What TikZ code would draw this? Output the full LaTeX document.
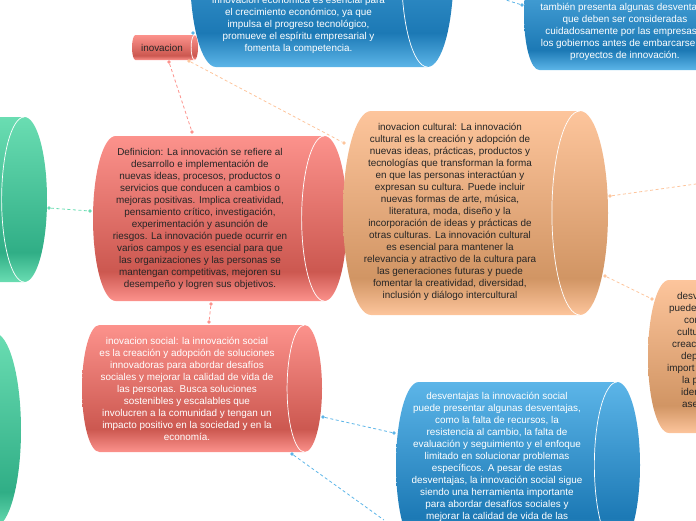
\documentclass[tikz,border=0pt]{standalone}
\usepackage{fontspec}
\setmainfont{Liberation Sans}
\definecolor{cylredlo}{HTML}{FC928C}
\definecolor{cylreddk}{HTML}{CC5850}
\definecolor{cylbluelo}{HTML}{5CB5E8}
\definecolor{cylbluedk}{HTML}{1C79B5}
\definecolor{cylorangelo}{HTML}{FDC59C}
\definecolor{cylorangedk}{HTML}{D19564}
\definecolor{cylgreenlo}{HTML}{6ADDB2}
\definecolor{cylgreendk}{HTML}{30AE86}
\pgfdeclareverticalshading{cylred}{100bp}{color(0bp)=(cylredlo); color(25bp)=(cylredlo); color(34bp)=(cylreddk); color(75bp)=(cylredlo); color(100bp)=(cylredlo)}
\pgfdeclareverticalshading{cylblue}{100bp}{color(0bp)=(cylbluelo); color(25bp)=(cylbluelo); color(34bp)=(cylbluedk); color(75bp)=(cylbluelo); color(100bp)=(cylbluelo)}
\pgfdeclareverticalshading{cylorange}{100bp}{color(0bp)=(cylorangelo); color(25bp)=(cylorangelo); color(34bp)=(cylorangedk); color(75bp)=(cylorangelo); color(100bp)=(cylorangelo)}
\pgfdeclareverticalshading{cylgreen}{100bp}{color(0bp)=(cylgreenlo); color(25bp)=(cylgreenlo); color(34bp)=(cylgreendk); color(75bp)=(cylgreenlo); color(100bp)=(cylgreenlo)}
\tikzset{
    cyltext/.style={align=center, font=\fontsize{9.9}{12}\selectfont, text=#1, inner sep=0pt},
    joint/.style={circle, fill=#1, inner sep=0pt, minimum size=3.6pt},
    link/.style={draw=#1, dashed, dash pattern=on 3pt off 2.5pt, line width=0.8pt},
}
% shading, left, top, right, bottom
\newcommand{\cylbox}[5]{
    \pgfmathsetmacro{\cylry}{(#5-#3)/2}
    \pgfmathsetmacro{\cylrx}{0.275*\cylry}
    \shade[shading=#1] (#2+\cylrx,#3) -- (#4-\cylrx,#3)
        arc[start angle=90, end angle=-90, x radius=\cylrx pt, y radius=\cylry pt]
        -- (#2+\cylrx,#5)
        arc[start angle=-90, end angle=-270, x radius=\cylrx pt, y radius=\cylry pt] -- cycle;
    \draw[white, line width=0.7pt] (#4-\cylrx,#3)
        arc[start angle=90, end angle=270, x radius=\cylrx pt, y radius=\cylry pt];
}
\begin{document}
\begin{tikzpicture}[x=1pt,y=-1pt]
    \useasboundingbox (0,0) rectangle (696,520);
    % green ends on the left
    \cylbox{cylgreen}{-250}{117}{47}{282}
    \cylbox{cylgreen}{-250}{333}{21}{527}
    % blue ones at the top
    \cylbox{cylblue}{190}{-122}{453.5}{67}
    \cylbox{cylblue}{524}{-41}{800}{70}
    \node[cyltext=white] (econ) at (298.5,24.5) {innovación económica es esencial para\\el crecimiento económico, ya que\\impulsa el progreso tecnológico,\\promueve el espíritu empresarial y\\fomenta la competencia.};
    \node[cyltext=white] (desv1) at (625,31.5) {también presenta algunas desventajas\\que deben ser consideradas\\cuidadosamente por las empresas y\\los gobiernos antes de embarcarse en\\proyectos de innovación.};
    % the root
    \cylbox{cylred}{132}{35}{198}{60}
    \node[cyltext=black!85] (root) at (162,47.5) {inovacion};
    % main red and orange cylinders
    \cylbox{cylred}{93}{136}{347}{301}
    \node[cyltext=black!85] (def) at (200,218.5) {Definicion: La innovación se refiere al\\desarrollo e implementación de\\nuevas ideas, procesos, productos o\\servicios que conducen a cambios o\\mejoras positivas. Implica creatividad,\\pensamiento crítico, investigación,\\experimentación y asunción de\\riesgos. La innovación puede ocurrir en\\varios campos y es esencial para que\\las organizaciones y las personas se\\mantengan competitivas, mejoren su\\desempeño y logren sus objetivos.};
    \cylbox{cylorange}{343}{111}{608}{315}
    \node[cyltext=black!85] (cult) at (450,212) {inovacion cultural: La innovación\\cultural es la creación y adopción de\\nuevas ideas, prácticas, productos y\\tecnologías que transforman la forma\\en que las personas interactúan y\\expresan su cultura. Puede incluir\\nuevas formas de arte, música,\\literatura, moda, diseño y la\\incorporación de ideas y prácticas de\\otras culturas. La innovación cultural\\es esencial para mantener la\\relevancia y atractivo de la cultura para\\las generaciones futuras y puede\\fomentar la creatividad, diversidad,\\inclusión y diálogo intercultural};
    \cylbox{cylred}{82}{325}{322}{452}
    \node[cyltext=white] (soc) at (187,389) {inovacion social: la innovación social\\es la creación y adopción de soluciones\\innovadoras para abordar desafíos\\sociales y mejorar la calidad de vida de\\las personas. Busca soluciones\\sostenibles y escalables que\\involucren a la comunidad y tengan un\\impacto positivo en la sociedad y en la\\economía.};
    \cylbox{cylblue}{396}{382}{640}{548}
    \node[cyltext=white, anchor=north] (desv2) at (497,392) {desventajas  la innovación social\\puede presentar algunas desventajas,\\como la falta de recursos, la\\resistencia al cambio, la falta de\\evaluación y seguimiento y el enfoque\\limitado en solucionar problemas\\específicos. A pesar de estas\\desventajas, la innovación social sigue\\siendo una herramienta importante\\para abordar desafíos sociales y\\mejorar la calidad de vida de las};
    \cylbox{cylorange}{648}{280}{900}{433}
    \node[cyltext=black!85, align=left, anchor=north west] (desv3) at (667,292) {\hspace*{10pt}desv\\\hspace*{2pt}puede\\\hspace*{17pt}con\\\hspace*{10pt}cultu\\\hspace*{5pt}creac\\\hspace*{14pt}dep\\import\\\hspace*{15pt}la p\\\hspace*{14pt}iden\\\hspace*{15pt}ase};
    % joints and links
    \node[joint=cylredlo] (j1) at (169,62) {};
    \node[joint=cylredlo] (j2) at (192,132) {};
    \node[joint=cylorangelo] (j3) at (189,61) {};
    \node[joint=cylorangelo] (j4) at (344,143) {};
    \node[joint=cylbluelo] (j5) at (193,33) {};
    \node[joint=cylgreenlo] (j6) at (49,208) {};
    \node[joint=cylgreenlo] (j7) at (90,211) {};
    \node[joint=cylredlo] (j8) at (211,304) {};
    \node[joint=cylredlo] (j9) at (209,322) {};
    \node[joint=cylorangelo] (j10) at (610,196) {};
    \coordinate (j11) at (696,184);
    \node[joint=cylorangelo] (j12) at (605,276) {};
    \node[joint=cylorangelo] (j13) at (652,299) {};
    \node[joint=cylbluelo] (j14) at (323,417) {};
    \node[joint=cylbluelo] (j15) at (394,433) {};
    \node[joint=cylbluelo] (j16) at (292,454) {};
    \coordinate (j17) at (384,520);
    \node[joint=cylbluelo] (j18) at (522,5) {};
    \coordinate (j19) at (506,0);
    \draw[link=cylredlo] (j1) -- (j2);
    \draw[link=cylorangelo] (j3) -- (j4);
    \draw[link=cylgreenlo] (j6) -- (j7);
    \draw[link=cylredlo] (j8) -- (j9);
    \draw[link=cylorangelo] (j10) -- (j11);
    \draw[link=cylorangelo] (j12) -- (j13);
    \draw[link=cylbluelo] (j14) -- (j15);
    \draw[link=cylbluelo] (j16) -- (j17);
    \draw[link=cylbluelo] (j18) -- (j19);
\end{tikzpicture}
\end{document}
